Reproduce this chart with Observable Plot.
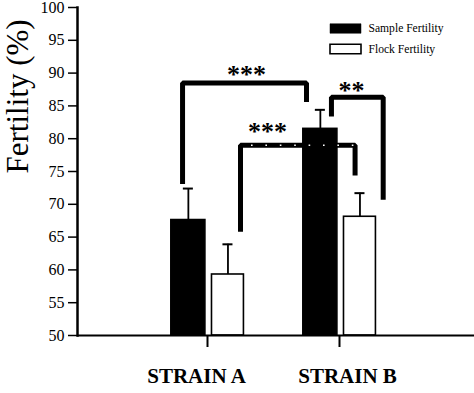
<!DOCTYPE html>
<html>
<head>
<meta charset="utf-8">
<script src="https://cdn.jsdelivr.net/npm/d3@7"></script>
<script src="https://cdn.jsdelivr.net/npm/@observablehq/plot@0.6"></script>
<style>
  html, body { margin: 0; padding: 0; background: #fff; }
  #chart svg { display: block; }
</style>
</head>
<body>
<div id="chart"></div>
<script>
// Fertility (%) by strain: mean sample and flock fertility with error bars
const strains = ["STRAIN A", "STRAIN B"];
const seriesNames = ["Sample Fertility", "Flock Fertility"];
const sampleFertility = [67.6, 81.5];
const sampleError = [4.8, 2.9];
const flockFertility = [59.3, 68.1];
const flockError = [4.6, 3.6];
const yTicks = [50, 55, 60, 65, 70, 75, 80, 85, 90, 95, 100];

// Significance comparisons: label, bracket level, left and right foot heights (%)
const bracketLabels = ["***", "***", "**"];
const bracketLevels = [88.5, 79.0, 86.3];
const bracketLeftFeet = [73.1, 65.8, 83.4];
const bracketRightFeet = [85.6, 74.4, 70.7];

// ---- layout (x in strain units: STRAIN A = 1, STRAIN B = 2) ----
const seriesOffset = {"Sample Fertility": -0.145, "Flock Fertility": 0.155};
const seriesHalfWidth = {"Sample Fertility": 0.129, "Flock Fertility": 0.121};
const bracketX = [[0.811, 1.75], [1.25, 2.118], [1.939, 2.331]];
const bracketTextX = [1.295, 1.455, 2.09];
const bracketTextY = [89.7, 81.0, 87.3];
const strainLabelX = [0.917, 2.061];

const bars = strains.flatMap((strain, i) => [
  {strain, series: seriesNames[0], value: sampleFertility[i], err: sampleError[i]},
  {strain, series: seriesNames[1], value: flockFertility[i], err: flockError[i]}
]).map(d => {
  const pos = strains.indexOf(d.strain) + 1 + seriesOffset[d.series];
  return {...d, pos, half: seriesHalfWidth[d.series]};
});

const brackets = bracketLabels.map((label, i) => ({
  id: i, label,
  level: bracketLevels[i],
  left: bracketLeftFeet[i],
  right: bracketRightFeet[i],
  x1: bracketX[i][0], x2: bracketX[i][1],
  tx: bracketTextX[i], ty: bracketTextY[i]
}));
const bracketPoints = brackets.flatMap(b => [
  {id: b.id, x: b.x1, y: b.left},
  {id: b.id, x: b.x1, y: b.level},
  {id: b.id, x: b.x2, y: b.level},
  {id: b.id, x: b.x2, y: b.right}
]);

// legend drawn inside the frame, top right
const rectSymbol = {draw(context) { context.rect(-15.5, -4.75, 31, 9.5); }};
const legendMarks = seriesNames.flatMap((name, i) => [
  Plot.dot([name], {
    frameAnchor: "top-right", dx: -129, dy: 21 + i * 20.5,
    symbol: rectSymbol, r: 5,
    fill: i === 0 ? "#000" : "#fff", stroke: "#000", strokeWidth: i === 0 ? 0.5 : 1.6
  }),
  Plot.text([name], {
    frameAnchor: "top-right", dx: -106, dy: 21 + i * 20.5,
    textAnchor: "start", lineAnchor: "middle", fontSize: 11.6, fill: "#000"
  })
]);

const chart = Plot.plot({
  width: 474,
  height: 393,
  marginLeft: 77,
  marginRight: 0,
  marginTop: 7,
  marginBottom: 58,
  style: {fontFamily: "'Liberation Serif', 'Times New Roman', serif", background: "#fff", color: "#000"},
  x: {domain: [1, 2], range: [207, 339]},
  y: {domain: [50, 100]},
  marks: [
    // bars
    Plot.rectY(bars, {
      x1: d => d.pos - d.half, x2: d => d.pos + d.half,
      y1: () => 50, y2: "value",
      fill: d => d.series === seriesNames[0] ? "#000" : "#fff",
      stroke: "#000", strokeWidth: 1.6
    }),
    // error bars with caps
    Plot.ruleX(bars, {x: "pos", y1: "value", y2: d => d.value + d.err, strokeWidth: 1.8}),
    Plot.ruleY(bars, {y: d => d.value + d.err, x1: d => d.pos - 0.038, x2: d => d.pos + 0.038, strokeWidth: 2}),
    // axes
    Plot.frame({anchor: "left", strokeWidth: 2.5}),
    Plot.ruleY([50], {strokeWidth: 2}),
    Plot.axisY({ticks: yTicks, tickSize: 9, tickPadding: 4, fontSize: 16, strokeWidth: 1.5, label: null}),
    Plot.axisX({ticks: [1, 2], tickSize: 12, tickFormat: () => "", strokeWidth: 2, label: null}),
    Plot.text(strains, {
      x: (d, i) => strainLabelX[i], frameAnchor: "bottom", dy: 41,
      fontSize: 21, fontWeight: "bold", lineAnchor: "middle", fill: "#000"
    }),
    Plot.text(["Fertility (%)"], {
      frameAnchor: "left", dx: -59, dy: 2, rotate: -90, fontSize: 31, lineAnchor: "middle", fill: "#000"
    }),
    // significance brackets
    Plot.line(bracketPoints, {
      x: "x", y: "y", z: "id", stroke: "#000", strokeWidth: 5,
      strokeLinejoin: "miter", strokeLinecap: "butt"
    }),
    Plot.ruleY(brackets.filter(b => b.id === 1), {
      y: "level", x1: "x1", x2: "x2", stroke: "#fff", strokeWidth: 1.6,
      strokeDasharray: "1.6,12.8", strokeDashoffset: -11
    }),
    Plot.text(brackets, {
      x: "tx", y: "ty", text: "label", fontSize: 26, fontWeight: "bold",
      lineAnchor: "middle", fill: "#000", ariaLabel: "significance"
    }),
    ...legendMarks
  ]
});

d3.select(chart).selectAll("g[aria-label=significance] text").style("letter-spacing", "2px");
document.getElementById("chart").appendChild(chart);
</script>
</body>
</html>
